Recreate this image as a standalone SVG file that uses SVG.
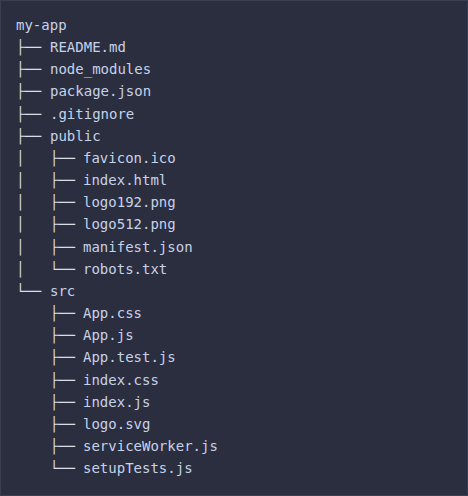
<svg xmlns="http://www.w3.org/2000/svg" width="468" height="496" viewBox="0 0 468 496">
<style>
text{font-family:"DejaVu Sans Mono","Liberation Mono",monospace;font-size:14px;fill:#c6d2ea;white-space:pre}
.t{fill:#d8dde8}
</style>
<rect x="0" y="0" width="468" height="496" fill="#2b2e3e"/>
<rect x="0.5" y="0.5" width="467" height="495" fill="none" stroke="#3a3e52" stroke-width="1"/>
<g id="connectors" xml:space="preserve">
<text class="t" x="16" y="52">├──</text>
<text class="t" x="16" y="74">├──</text>
<text class="t" x="16" y="96">├──</text>
<text class="t" x="16" y="119">├──</text>
<text class="t" x="16" y="141">├──</text>
<text class="t" x="16" y="163">│   ├──</text>
<text class="t" x="16" y="185">│   ├──</text>
<text class="t" x="16" y="207">│   ├──</text>
<text class="t" x="16" y="229">│   ├──</text>
<text class="t" x="16" y="252">│   ├──</text>
<text class="t" x="16" y="274">│   └──</text>
<text class="t" x="16" y="296">└──</text>
<text class="t" x="16" y="318">    ├──</text>
<text class="t" x="16" y="340">    ├──</text>
<text class="t" x="16" y="362">    ├──</text>
<text class="t" x="16" y="385">    ├──</text>
<text class="t" x="16" y="407">    ├──</text>
<text class="t" x="16" y="429">    ├──</text>
<text class="t" x="16" y="451">    ├──</text>
<text class="t" x="16" y="473">    └──</text>
</g>
<g id="my-app"><text x="16" y="30">my-app</text></g>
<g id="readme"><text x="50" y="52">README.md</text></g>
<g id="node_modules"><text x="50" y="74">node_modules</text></g>
<g id="package_json"><text x="50" y="96">package.json</text></g>
<g id="gitignore"><text x="50" y="119">.gitignore</text></g>
<g id="public"><text x="50" y="141">public</text></g>
<g id="favicon"><text x="83" y="163">favicon.ico</text></g>
<g id="index_html"><text x="83" y="185">index.html</text></g>
<g id="logo192"><text x="83" y="207">logo192.png</text></g>
<g id="logo512"><text x="83" y="229">logo512.png</text></g>
<g id="manifest"><text x="83" y="252">manifest.json</text></g>
<g id="robots"><text x="83" y="274">robots.txt</text></g>
<g id="src"><text x="50" y="296">src</text></g>
<g id="app_css"><text x="83" y="318">App.css</text></g>
<g id="app_js"><text x="83" y="340">App.js</text></g>
<g id="app_test"><text x="83" y="362">App.test.js</text></g>
<g id="index_css"><text x="83" y="385">index.css</text></g>
<g id="index_js"><text x="83" y="407">index.js</text></g>
<g id="logo_svg"><text x="83" y="429">logo.svg</text></g>
<g id="serviceWorker"><text x="83" y="451">serviceWorker.js</text></g>
<g id="setupTests"><text x="83" y="473">setupTests.js</text></g>
</svg>
